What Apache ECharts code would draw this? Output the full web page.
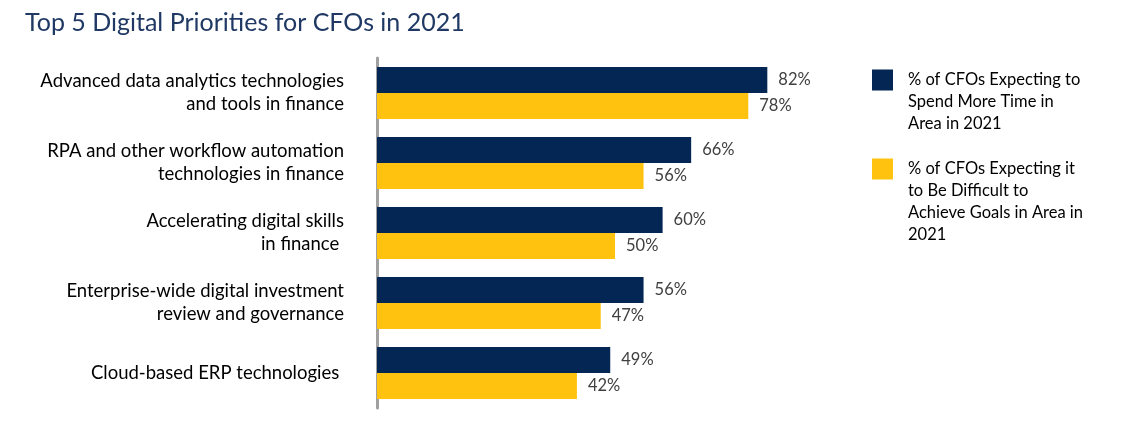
<!DOCTYPE html>
<html>
<head>
<meta charset="utf-8">
<script src="https://cdn.jsdelivr.net/npm/echarts@6/dist/echarts.min.js"></script>
<style>
html,body{margin:0;padding:0;background:#fff;}
#chart{width:1129px;height:435px;}
</style>
</head>
<body>
<div id="chart"></div>
<script>
var categories = [
  "Advanced data analytics technologies\nand tools in finance",
  "RPA and other workflow automation\ntechnologies in finance",
  "Accelerating digital skills\nin finance ",
  "Enterprise-wide digital investment\nreview and governance",
  "Cloud-based ERP technologies "
];
var spendMoreTime = [82, 66, 60, 56, 49];
var difficultGoals = [78, 56, 50, 47, 42];
var seriesNames = [
  "% of CFOs Expecting to\nSpend More Time in\nArea in 2021",
  "% of CFOs Expecting it\nto Be Difficult to\nAchieve Goals in Area in\n2021"
];
var titleText = "Top 5 Digital Priorities for CFOs in 2021";

var FONT = "Lato, 'Open Sans', sans-serif";
var NAVY = "#032654";
var YELLOW = "#FFC20E";

// prepend blank lines so the first text line sits level with the legend square
function topAlign(name) {
  var n = name.split('\n').length;
  return new Array(n).join('\n') + name;
}

var chart = echarts.init(document.getElementById('chart'));
var labelStyle = {
  show: true, position: 'right', distance: 11,
  formatter: '{c}%', color: '#404040', fontSize: 16.5, fontFamily: FONT
};
var legendText = { color: '#000', fontSize: 16.5, lineHeight: 22, fontFamily: FONT, padding: [0, 0, 0, 10] };
chart.setOption({
  animation: false,
  title: {
    text: titleText, left: 20, top: 5,
    textStyle: { color: '#1F3864', fontSize: 25, fontWeight: 'normal', fontFamily: FONT }
  },
  legend: [
    {
      data: [seriesNames[0]], orient: 'vertical', left: 867, top: 20,
      icon: 'rect', itemWidth: 21, itemHeight: 21,
      formatter: topAlign, textStyle: legendText
    },
    {
      data: [seriesNames[1]], orient: 'vertical', left: 867, top: 87,
      icon: 'rect', itemWidth: 21, itemHeight: 21,
      formatter: topAlign, textStyle: legendText
    }
  ],
  grid: { left: 377, right: 276, top: 58, bottom: 27 },
  xAxis: {
    type: 'value', min: 0, max: 100,
    show: false, splitLine: { show: false }
  },
  yAxis: {
    type: 'category', data: categories, inverse: true,
    axisLine: { show: true, lineStyle: { color: '#A0A0A0', width: 3 } },
    axisTick: { show: false },
    axisLabel: { color: '#000', fontSize: 18.5, lineHeight: 23, margin: 33, fontFamily: FONT }
  },
  series: [
    {
      name: seriesNames[0], type: 'bar', data: spendMoreTime,
      barWidth: 26, barGap: '0%', itemStyle: { color: NAVY }, label: labelStyle
    },
    {
      name: seriesNames[1], type: 'bar', data: difficultGoals,
      barWidth: 26, barGap: '0%', itemStyle: { color: YELLOW }, label: labelStyle
    }
  ]
});
</script>
</body>
</html>
